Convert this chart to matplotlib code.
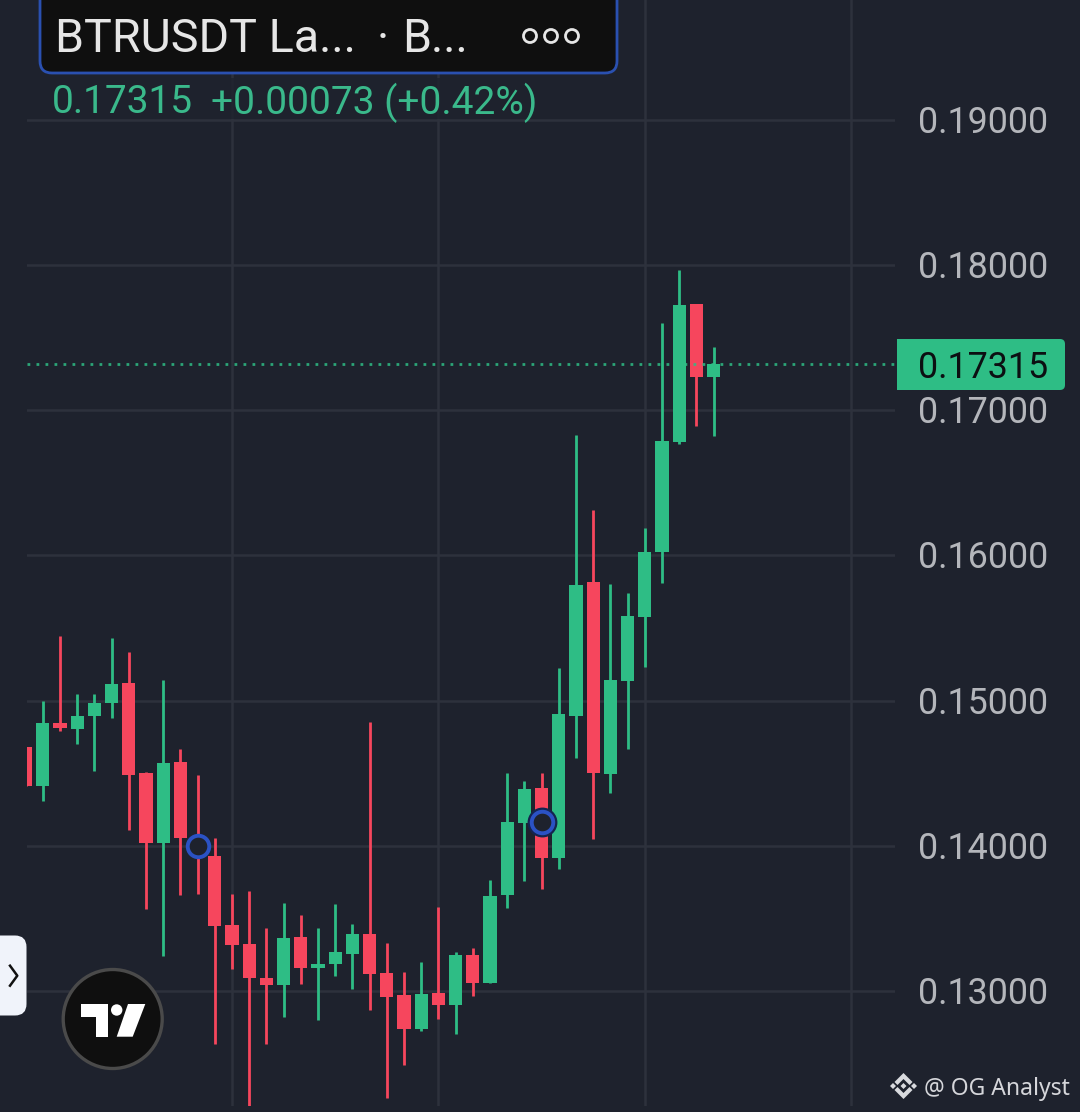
import matplotlib
matplotlib.use("Agg")
import matplotlib.pyplot as plt
from matplotlib.patches import FancyBboxPatch, Rectangle, Circle, Polygon
from matplotlib.ticker import FixedLocator, FuncFormatter
from matplotlib.transforms import ScaledTranslation

plt.rcParams['font.family'] = ['Roboto', 'DejaVu Sans']

# candle values; index -1 is the candle cut off by the left edge
candle_index = list(range(-1, 40))
opens = [.14679, .14415, .14849, .14807, .14897, .14981, .15124, .14500, .14022, .14580,
         .14057, .13933, .13458, .13327, .13093, .13045, .13375, .13162, .13189, .13258,
         .13396, .13127, .12976, .12742, .12990, .12907, .13251, .13059, .13664, .14160,
         .14401, .13919, .14897, .15815, .14497, .15138, .15578, .16021, .16778, .17730,
         .17231]
highs = [.14679, .14995, .15448, .15048, .15048, .15434, .15337, .14506, .15145, .14670,
         .14486, .14057, .13671, .13692, .13437, .13609, .13527, .13437, .13602, .13465,
         .14855, .13334, .13134, .13203, .13582, .13272, .13299, .13768, .14504, .14449,
         .14504, .15227, .16831, .16315, .15806, .15744, .16191, .17603, .17968, .17733,
         .17437]
lows = [.14415, .14312, .14789, .14704, .14518, .14878, .14107, .13568, .13244, .13664,
        .13671, .12639, .13155, .12212, .12639, .12824, .13052, .12804, .13107, .13017,
        .12873, .12267, .12494, .12728, .12811, .12707, .12969, .13059, .13575, .13761,
        .13706, .13843, .14608, .14050, .14367, .14670, .15234, .15813, .16769, .16893,
        .16820]
closes = [.14415, .14849, .14812, .14897, .14986, .15117, .14491, .14022, .14573, .14057,
          .13933, .13451, .13320, .13093, .13045, .13368, .13162, .13189, .13272, .13396,
          .13120, .12962, .12742, .12983, .12907, .13251, .13059, .13658, .14167, .14394,
          .13919, .14911, .15799, .14504, .15145, .15585, .16026, .16790, .17727, .17231,
          .17315]
last_price = 0.17315
price_ticks = [0.13, 0.14, 0.15, 0.16, 0.17, 0.18, 0.19]
time_grid = [11, 23, 35, 47]
marker_index = [9, 29]
marker_price = [0.14002, 0.14167]

BG = '#1e222d'
GREEN = '#2ebd85'
RED = '#f6465d'
GRID = '#2d313c'
LABEL = '#b4b6bb'
W, H = 1080, 1112

fig = plt.figure(figsize=(W / 100, H / 100), dpi=100, facecolor=BG)

# price chart: pixel frame 27..895 by 0..1106
L, R, T, B = 27, 895, 0, 1106
ax = fig.add_axes([L / W, 1 - B / H, (R - L) / W, (B - T) / H], facecolor=BG)
px_per_bar = 17.2
x0 = 42.8
ax.set_xlim((L - x0) / px_per_bar, (R - x0) / px_per_bar)
px_per_price = 14525.0
y_13 = 991.2
ax.set_ylim(0.13 + (y_13 - B) / px_per_price, 0.13 + (y_13 - T) / px_per_price)

for s in ax.spines.values():
    s.set_visible(False)
ax.xaxis.set_major_locator(FixedLocator(time_grid))
ax.yaxis.set_major_locator(FixedLocator(price_ticks))
ax.yaxis.set_major_formatter(FuncFormatter(lambda v, _: f'{v:.5f}'))
ax.yaxis.tick_right()
ax.tick_params(axis='x', length=0, labelbottom=False)
ax.tick_params(axis='y', length=0, pad=16.5, labelsize=25.8, labelcolor=LABEL)
ax.grid(True, color=GRID, lw=1.8)
ax.set_axisbelow(True)
shift_up = ScaledTranslation(0, 1 / 100, fig.dpi_scale_trans)
for lab in ax.get_yticklabels():
    lab.set_transform(lab.get_transform() + shift_up)

colors = [GREEN if c >= o else RED for o, c in zip(opens, closes)]
ax.vlines(candle_index, lows, highs, colors=colors, lw=2.0, zorder=3, capstyle='butt')
ax.bar(candle_index, [abs(c - o) for o, c in zip(opens, closes)],
       bottom=[min(o, c) for o, c in zip(opens, closes)],
       width=0.76, color=colors, linewidth=0, zorder=4)

ax.axhline(last_price, color=GREEN, lw=2.0, ls=(0, (1, 2.24)), zorder=5, alpha=0.85)

# marker rings
ax.plot(marker_index[1], marker_price[1], 'o', ms=21.5, mfc='#14244f', mec='none', zorder=6)
ax.plot(marker_index, marker_price, 'o', ms=15.5, mfc=BG, mec='#2b52c4', mew=2.8, zorder=7)

# overlay in pixel coordinates for interface furniture
ov = fig.add_axes([0, 0, 1, 1], zorder=10)
ov.set_xlim(0, W)
ov.set_ylim(H, 0)
ov.axis('off')
ov.patch.set_alpha(0)

# legend backing and title box
ov.add_patch(Rectangle((48, 78), 497, 41, fc=BG, ec='none', alpha=0.75))
ov.add_patch(FancyBboxPatch((48, -20), 561, 85, boxstyle='round,pad=8,rounding_size=12',
                            fc='#0f0f0f', ec='#2a50b0', lw=2))
ov.text(55, 34.5, 'BTRUSDT La...', color='#e6e6e6', fontsize=33.6, va='center_baseline', ha='left')
ov.text(377, 34.5, '·', color='#e6e6e6', fontsize=33.6, va='center_baseline', ha='left')
ov.text(402, 34.5, 'B...', color='#e6e6e6', fontsize=33.6, va='center_baseline', ha='left')
for cx in (530, 551, 572):
    ov.add_patch(Circle((cx, 36), 6.5, fc='none', ec='#e6e6e6', lw=2))

ov.text(52, 98.5, '0.17315', color='#3ab98b', fontsize=28, va='center_baseline', ha='left')
ov.text(211, 98.5, '+0.00073 (+0.42%)', color='#3ab98b', fontsize=28, va='center_baseline', ha='left')

# last-price tag
ov.add_patch(FancyBboxPatch((901, 343), 160, 43, boxstyle='round,pad=4,rounding_size=5',
                            fc=GREEN, ec='none'))
ov.add_patch(Rectangle((897, 339), 12, 51, fc=GREEN, ec='none'))
ov.text(918, 364, f'{last_price:.5f}', color='#0c0f12', fontsize=25.8,
        va='center_baseline', ha='left')

# side tab
ov.add_patch(FancyBboxPatch((-12, 947), 27, 57, boxstyle='round,pad=11.5,rounding_size=11.5',
                            fc='#f0f3fa', ec='none'))
ov.plot([10, 17.3, 10], [965.7, 975.7, 985.7], color='#111111', lw=1.8)

# TradingView badge
ov.add_patch(Circle((112.7, 1019), 49.5, fc='#0f0f0f', ec='#4a4a4a', lw=2.4))
ov.add_patch(Polygon([(81, 1004), (108.3, 1004), (108.3, 1036.7), (96, 1036.7), (96, 1017.3), (81, 1017.3)],
                     fc='white', ec='none'))
ov.add_patch(Circle((116.7, 1010), 5.7, fc='white', ec='none'))
ov.add_patch(Polygon([(128, 1004), (145.3, 1004), (132.7, 1036.7), (116.7, 1036.7)], fc='white', ec='none'))

# watermark
ICON = '#d9dade'
cx, cy = 903.5, 1086
ov.add_patch(Polygon([(cx - 9, cy - 4), (cx, cy - 13), (cx + 9, cy - 4), (cx + 6, cy - 1), (cx, cy - 7), (cx - 6, cy - 1)], fc=ICON, ec='none'))
ov.add_patch(Polygon([(cx - 9, cy + 4), (cx, cy + 13), (cx + 9, cy + 4), (cx + 6, cy + 1), (cx, cy + 7), (cx - 6, cy + 1)], fc=ICON, ec='none'))
ov.add_patch(Polygon([(cx - 3, cy), (cx, cy - 3), (cx + 3, cy), (cx, cy + 3)], fc=ICON, ec='none'))
ov.add_patch(Polygon([(cx - 13.5, cy), (cx - 10.5, cy - 3), (cx - 7.5, cy), (cx - 10.5, cy + 3)], fc=ICON, ec='none'))
ov.add_patch(Polygon([(cx + 7.5, cy), (cx + 10.5, cy - 3), (cx + 13.5, cy), (cx + 10.5, cy + 3)], fc=ICON, ec='none'))
ov.text(924, 1086, '@ OG Analyst', color='#d5d6da', fontsize=16.5, family=['Noto Sans', 'DejaVu Sans'],
        va='center_baseline', ha='left')

fig.savefig('out.png', dpi=100, facecolor=BG)
